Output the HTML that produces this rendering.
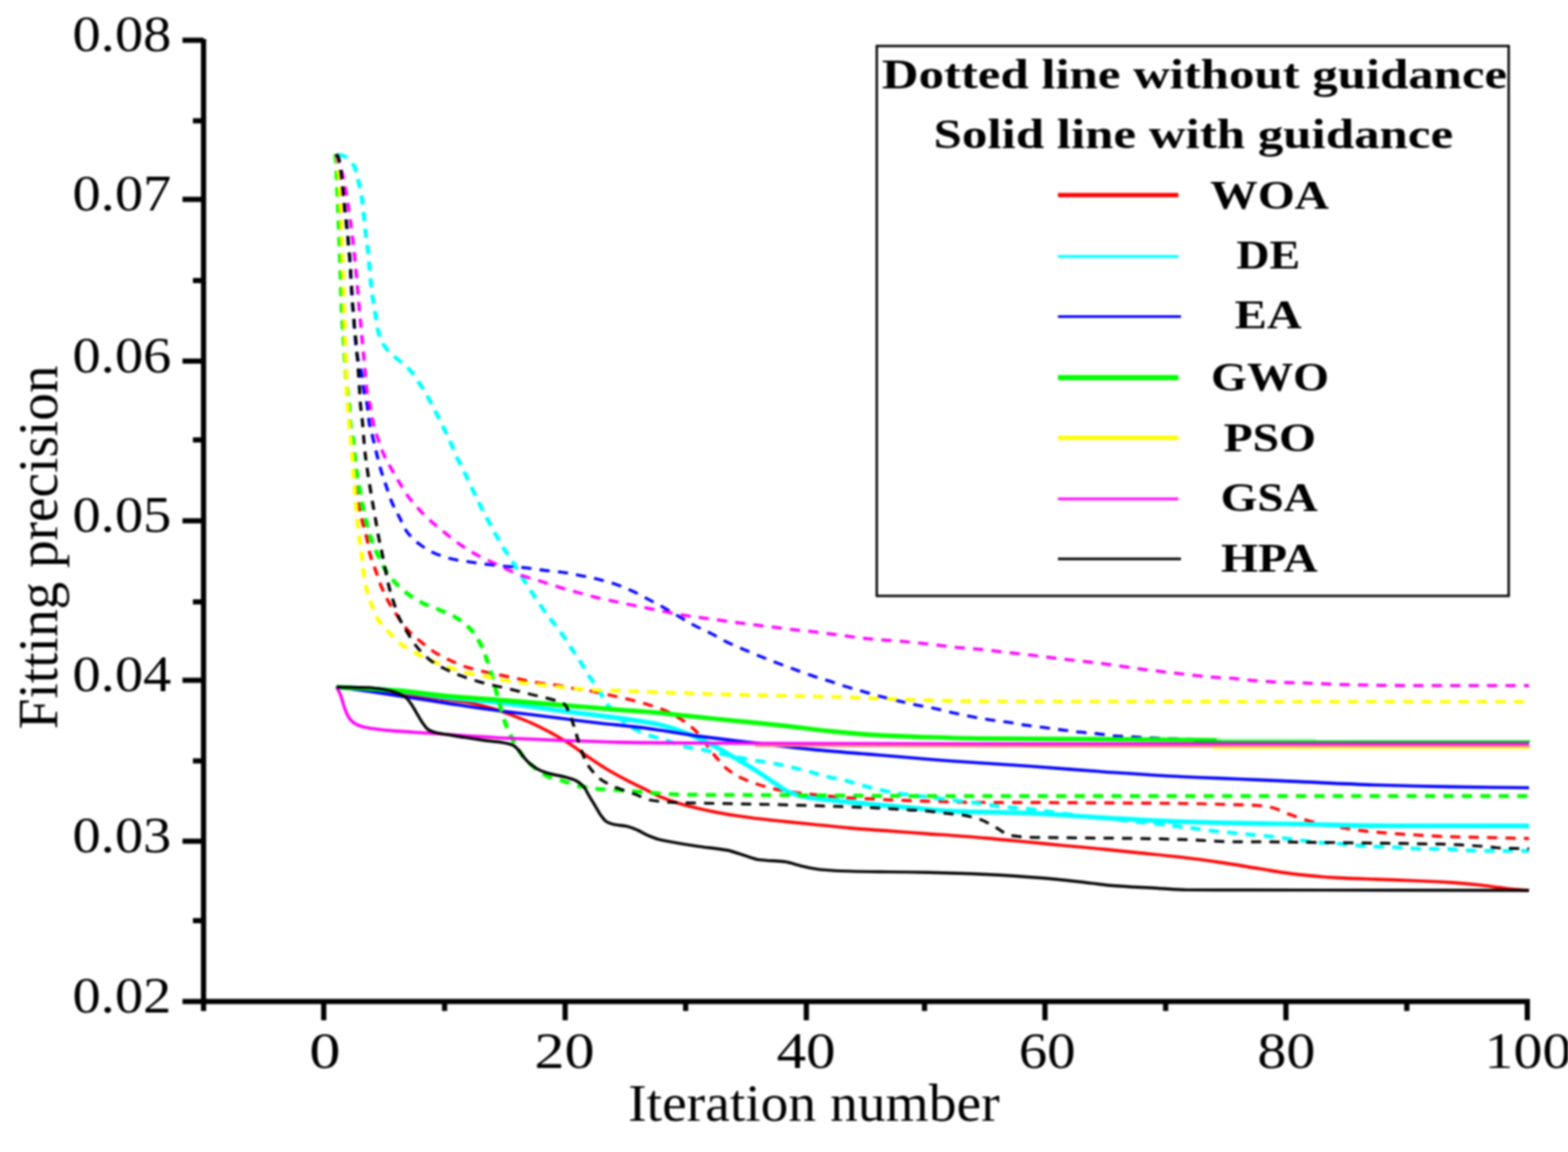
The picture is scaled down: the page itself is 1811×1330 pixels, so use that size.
<!DOCTYPE html>
<html lang="en"><head><meta charset="utf-8"><title>Fitting precision vs iteration number</title>
<style>
html,body{margin:0;padding:0;background:#fff;}
body{width:1811px;height:1330px;overflow:hidden;}
svg{display:block;filter:blur(0.8px);}
text{font-family:"Liberation Serif","DejaVu Serif",serif;fill:#000;}
.tk{font-size:60px;}
.ax{font-size:61px;}
.ay{font-size:66px;}
.lg{font-size:48px;font-weight:bold;}
.lb{font-size:47px;font-weight:bold;}

.c{fill:none;stroke-linejoin:round;stroke-linecap:butt;}
</style></head><body>
<svg width="1811" height="1330" viewBox="0 0 1811 1330">
<rect x="0" y="0" width="1811" height="1330" fill="#fff"/>
<g id="curves">
<path class="c" transform="scale(1 0.90)" d="M387.8 197.8C388.1 199.3 388.5 200.1 388.8 202.2C390.0 209.9 391.2 239.3 392.4 266.2C393.1 282.7 393.9 306.5 394.6 330.0C395.2 349.2 395.8 376.1 396.4 393.9C397.2 418.6 398.1 432.5 398.9 456.4C399.3 468.9 399.8 491.3 400.2 498.9C400.8 509.4 401.4 512.1 402.0 519.6C402.5 526.2 403.1 534.6 403.6 541.0C404.3 549.0 404.9 555.6 405.6 562.6C406.3 570.2 407.1 576.7 407.8 584.7C408.4 591.1 409.0 599.2 409.6 605.6C410.3 613.4 411.1 620.1 411.8 627.1C412.6 634.4 413.3 643.5 414.1 648.4C415.6 658.1 417.1 662.7 418.6 669.3C420.3 676.7 421.9 682.3 423.6 690.2C424.9 696.3 426.1 705.9 427.4 711.1C429.5 719.6 431.5 724.2 433.6 730.8C435.7 737.6 437.9 745.2 440.0 751.1C442.8 758.8 445.6 765.4 448.4 771.2C451.5 777.6 454.6 782.8 457.7 788.0C461.8 794.8 465.9 801.9 470.0 807.0C475.2 813.4 480.3 817.9 485.5 822.7C490.8 827.6 496.1 832.5 501.4 836.2C507.5 840.5 513.5 843.9 519.6 847.0C526.2 850.4 532.8 853.6 539.4 855.9C546.3 858.3 553.1 860.0 560.0 861.8C567.0 863.6 574.0 865.0 581.0 866.7C588.0 868.3 595.0 870.0 602.0 871.6C609.0 873.1 616.0 874.8 623.0 876.0C629.6 877.1 636.3 877.7 642.9 878.9C649.9 880.1 656.9 882.0 663.9 883.3C670.9 884.7 677.9 885.6 684.9 887.0C691.9 888.4 698.9 890.3 705.9 892.0C712.9 893.7 719.9 895.4 726.9 897.3C733.5 899.1 740.0 901.1 746.6 903.2C752.9 905.3 759.1 907.2 765.4 910.0C772.0 913.0 778.7 917.1 785.3 921.8C790.8 925.6 796.4 930.0 801.9 935.8C810.0 944.2 818.1 959.6 826.2 970.1C830.6 975.8 835.0 982.2 839.4 986.1C845.3 991.4 851.2 995.3 857.1 998.4C863.4 1001.8 869.6 1004.2 875.9 1006.4C882.3 1008.7 888.8 1010.7 895.2 1012.2C902.4 1013.9 909.6 1015.1 916.8 1016.2C924.2 1017.4 931.5 1018.2 938.9 1019.1C946.3 1020.0 953.6 1020.8 961.0 1021.6C968.4 1022.3 975.7 1023.2 983.1 1023.7C990.5 1024.1 997.8 1024.3 1005.2 1024.7C1012.6 1025.1 1019.9 1025.7 1027.3 1026.1C1042.0 1026.8 1056.8 1027.3 1071.5 1027.8C1089.9 1028.4 1108.3 1029.1 1126.7 1029.2C1147.3 1029.4 1167.8 1029.4 1188.4 1029.4C1217.9 1029.6 1247.3 1029.8 1276.8 1030.0C1306.3 1030.2 1335.7 1030.3 1365.2 1030.7C1385.8 1030.9 1406.4 1031.7 1427.0 1032.3C1434.3 1032.5 1441.7 1032.6 1449.0 1033.0C1455.8 1033.3 1462.5 1034.5 1469.3 1036.0C1475.7 1037.4 1482.2 1041.7 1488.6 1044.3C1495.1 1047.0 1501.7 1049.7 1508.2 1051.8C1514.8 1053.9 1521.5 1055.9 1528.1 1057.4C1535.1 1059.1 1542.1 1060.4 1549.1 1061.7C1556.1 1063.0 1563.1 1064.4 1570.1 1065.3C1577.5 1066.3 1584.8 1067.1 1592.2 1067.8C1606.2 1069.1 1620.2 1070.1 1634.2 1071.0C1648.2 1071.9 1662.2 1073.0 1676.2 1073.4C1690.9 1073.9 1705.7 1074.1 1720.4 1074.4C1735.6 1074.8 1750.8 1075.3 1766.0 1075.7" stroke="#ff0000" stroke-width="3.8" stroke-dasharray="11.8 9.5"/>
<path class="c" d="M388.7 793.3C401.2 794.5 413.8 795.6 426.3 797.0C441.0 798.6 455.8 800.8 470.5 802.5C477.9 803.4 485.2 804.1 492.6 805.0C507.3 806.7 522.1 808.1 536.8 810.5C547.9 812.3 558.9 815.1 570.0 818.2C577.3 820.3 584.7 823.2 592.0 826.0C599.4 828.8 606.7 831.5 614.1 834.8C621.5 838.1 628.8 841.9 636.2 845.9C643.6 849.9 650.9 854.3 658.3 859.1C665.7 863.9 673.0 869.6 680.4 874.6C687.8 879.6 695.1 884.6 702.5 889.0C709.9 893.4 717.2 897.3 724.6 901.1C730.4 904.1 736.2 906.8 742.0 909.7C748.7 913.0 755.3 916.9 762.0 919.7C769.4 922.8 776.8 925.4 784.2 927.6C795.2 930.9 806.3 933.5 817.3 935.8C828.4 938.1 839.4 940.2 850.5 941.8C865.2 944.0 880.0 945.7 894.7 947.3C909.4 948.9 924.2 950.2 938.9 951.7C953.6 953.2 968.4 954.8 983.1 956.1C997.8 957.4 1012.6 958.3 1027.3 959.4C1042.0 960.5 1056.8 961.5 1071.5 962.6C1093.8 964.2 1116.1 965.7 1138.4 967.6C1155.1 969.0 1171.7 970.7 1188.4 972.3C1201.2 973.5 1214.0 974.8 1226.8 976.0C1243.5 977.6 1260.1 979.0 1276.8 980.6C1289.6 981.9 1302.4 983.3 1315.2 984.6C1331.9 986.3 1348.5 987.8 1365.2 989.8C1380.5 991.6 1395.7 993.7 1411.0 995.9C1425.7 998.0 1440.5 1000.7 1455.2 1003.0C1469.9 1005.3 1484.7 1008.0 1499.4 1009.6C1514.1 1011.2 1528.9 1012.6 1543.6 1013.4C1558.3 1014.2 1573.1 1014.6 1587.8 1015.1C1602.5 1015.6 1617.3 1016.1 1632.0 1016.7C1646.7 1017.3 1661.5 1018.0 1676.2 1018.9C1687.2 1019.6 1698.3 1020.6 1709.3 1021.8C1716.7 1022.6 1724.0 1023.7 1731.4 1024.6C1737.3 1025.4 1743.2 1026.4 1749.1 1026.9C1754.7 1027.4 1760.4 1027.6 1766.0 1028.0" stroke="#ff0000" stroke-width="3.6"/>
<path class="c" transform="scale(1 0.90)" d="M390.0 198.3C391.8 198.7 393.6 198.9 395.4 199.4C399.8 200.8 404.2 204.8 408.6 212.1C410.4 215.2 412.3 224.7 414.1 233.0C415.4 238.8 416.6 244.9 417.9 253.9C418.6 259.1 419.4 267.1 420.1 274.8C420.7 281.1 421.3 289.9 421.9 295.7C422.8 304.0 423.6 308.3 424.5 316.6C425.1 322.3 425.7 330.2 426.3 337.3C426.9 344.5 427.5 353.0 428.1 359.4C428.8 367.3 429.6 374.5 430.3 380.3C431.3 388.6 432.4 393.9 433.4 401.2C434.3 407.8 435.3 418.0 436.2 422.1C438.6 432.9 441.1 438.8 443.5 443.0C448.1 450.9 452.6 454.1 457.2 458.9C462.4 464.3 467.5 467.5 472.7 473.7C476.4 478.1 480.1 484.4 483.8 490.6C487.3 496.4 490.9 502.8 494.4 509.8C497.5 515.8 500.5 522.8 503.6 529.4C506.6 535.9 509.5 542.3 512.5 549.0C515.3 555.3 518.1 561.7 520.9 568.7C523.4 574.9 525.9 582.3 528.4 588.3C531.2 595.0 534.0 600.4 536.8 606.8C539.6 613.1 542.4 619.9 545.2 626.4C548.0 633.0 550.8 639.8 553.6 646.0C556.7 652.9 559.8 659.1 562.9 665.7C565.8 671.8 568.8 678.3 571.7 684.1C575.2 691.0 578.6 697.5 582.1 703.8C585.4 709.7 588.7 715.1 592.0 720.9C595.7 727.4 599.4 734.1 603.1 740.6C606.6 746.8 610.2 753.0 613.7 759.0C617.4 765.3 621.1 771.6 624.8 777.4C628.6 783.5 632.4 789.2 636.2 794.8C640.2 800.7 644.2 805.7 648.2 811.9C651.9 817.6 655.7 824.3 659.4 830.6C663.1 836.7 666.8 842.5 670.5 849.0C673.8 854.8 677.1 861.9 680.4 867.4C683.4 872.4 686.3 875.9 689.3 880.9C693.0 887.0 696.6 896.1 700.3 901.8C705.5 909.7 710.6 916.3 715.8 921.4C721.3 926.9 726.9 931.5 732.4 934.9C737.9 938.3 743.3 941.0 748.8 943.1C755.1 945.5 761.3 946.6 767.6 948.8C774.6 951.2 781.6 955.6 788.6 957.4C796.0 959.3 803.3 960.0 810.7 961.6C817.3 963.0 824.0 964.9 830.6 966.4C838.0 968.2 845.3 969.9 852.7 971.4C859.3 972.9 866.0 974.3 872.6 975.6C879.6 976.9 886.6 977.8 893.6 979.2C900.6 980.6 907.6 982.5 914.6 984.3C921.2 986.0 927.9 987.9 934.5 989.8C941.5 991.8 948.5 994.4 955.5 996.2C962.1 998.0 968.8 999.1 975.4 1000.9C982.0 1002.7 988.6 1005.2 995.2 1007.2C1002.2 1009.3 1009.2 1011.4 1016.2 1013.1C1022.8 1014.7 1029.5 1016.3 1036.1 1017.4C1043.5 1018.7 1050.8 1019.4 1058.2 1020.4C1065.6 1021.5 1072.9 1022.6 1080.3 1023.7C1087.7 1024.7 1095.0 1025.6 1102.4 1026.7C1108.9 1027.6 1115.5 1028.5 1122.0 1029.4C1128.7 1030.4 1135.3 1031.5 1142.0 1032.4C1148.6 1033.4 1155.3 1034.3 1161.9 1035.1C1169.3 1036.0 1176.6 1036.5 1184.0 1037.3C1206.0 1039.8 1228.0 1043.8 1250.0 1046.7C1284.0 1051.1 1318.0 1054.4 1352.0 1058.9C1359.0 1059.8 1366.0 1060.9 1373.0 1061.9C1380.0 1062.9 1387.0 1064.2 1394.0 1065.1C1401.3 1066.1 1408.7 1066.8 1416.0 1067.6C1423.2 1068.3 1430.3 1069.1 1437.5 1069.9C1444.5 1070.6 1451.5 1071.2 1458.5 1072.0C1465.5 1072.8 1472.5 1073.7 1479.5 1074.7C1486.1 1075.6 1492.8 1076.6 1499.4 1077.6C1506.8 1078.6 1514.1 1079.9 1521.5 1080.6C1528.9 1081.2 1536.2 1081.4 1543.6 1082.0C1550.2 1082.5 1556.9 1083.7 1563.5 1084.2C1570.5 1084.8 1577.5 1085.3 1584.5 1085.7C1591.5 1086.1 1598.5 1086.3 1605.5 1086.7C1612.9 1087.1 1620.2 1087.7 1627.6 1088.1C1634.6 1088.5 1641.6 1089.1 1648.6 1089.1C1655.6 1089.1 1662.6 1089.1 1669.6 1089.1C1676.6 1089.1 1683.6 1090.2 1690.6 1090.6C1697.6 1090.9 1704.6 1091.6 1711.6 1091.6C1718.6 1091.6 1725.5 1091.6 1732.5 1091.6C1743.7 1091.6 1754.8 1091.6 1766.0 1091.6" stroke="#00ffff" stroke-width="4.8" stroke-dasharray="11.8 9.5"/>
<path class="c" d="M388.7 793.3C412.3 794.8 435.8 795.7 459.4 797.7C477.8 799.3 496.3 802.9 514.7 805.0C536.8 807.5 558.9 809.1 581.0 811.6C603.1 814.1 625.2 817.5 647.3 820.4C662.0 822.3 676.8 824.1 691.5 826.0C706.2 827.9 721.0 829.7 735.7 832.0C744.5 833.4 753.2 834.7 762.0 836.7C769.4 838.4 776.8 840.8 784.2 843.3C791.6 845.8 798.9 848.9 806.3 852.2C813.7 855.5 821.0 859.3 828.4 863.2C835.8 867.1 843.1 871.7 850.5 876.0C857.9 880.3 865.2 884.5 872.6 889.2C880.0 893.9 887.3 899.3 894.7 904.1C900.6 907.9 906.5 912.8 912.4 915.1C918.6 917.5 924.8 919.1 931.0 920.2C941.0 922.0 951.0 922.9 961.0 924.0C975.7 925.7 990.5 927.0 1005.2 928.4C1019.9 929.8 1034.7 931.0 1049.4 932.3C1066.3 933.7 1083.1 935.8 1100.0 936.5C1129.5 937.7 1158.9 937.7 1188.4 938.7C1217.9 939.7 1247.3 942.6 1276.8 944.2C1306.3 945.8 1335.7 947.6 1365.2 948.6C1394.7 949.6 1424.1 950.3 1453.6 950.8C1469.1 951.1 1484.5 951.2 1500.0 951.4C1529.3 951.9 1558.5 953.2 1587.8 953.3C1647.2 953.4 1706.6 953.4 1766.0 953.5" stroke="#00ffff" stroke-width="5.4"/>
<path class="c" transform="scale(1 0.90)" d="M388.2 197.8C389.5 205.9 390.7 213.6 392.0 222.2C394.0 235.9 396.0 248.6 398.0 266.2C399.9 283.3 401.9 303.6 403.8 330.0C405.0 346.8 406.3 376.0 407.5 393.9C409.2 418.5 410.9 445.3 412.6 456.4C414.2 467.2 415.9 468.2 417.5 478.6C418.2 483.2 419.0 493.9 419.7 498.7C421.2 508.2 422.6 509.8 424.1 519.6C424.8 524.4 425.6 536.1 426.3 541.0C427.8 550.7 429.2 554.9 430.7 561.8C432.2 568.6 433.6 575.7 435.1 582.2C436.7 589.5 438.4 597.0 440.0 603.1C442.1 610.9 444.1 617.2 446.2 623.9C448.4 631.1 450.6 639.0 452.8 644.8C455.6 652.1 458.4 657.2 461.2 663.2C464.3 669.9 467.4 678.4 470.5 682.9C475.3 689.9 480.1 694.4 484.9 698.3C490.8 703.2 496.6 707.1 502.5 709.9C509.1 713.0 515.8 715.6 522.4 717.2C529.3 718.9 536.1 719.7 543.0 720.9C549.8 722.0 556.5 723.2 563.3 724.1C570.3 725.1 577.3 725.9 584.3 726.6C591.7 727.3 599.0 727.6 606.4 728.3C613.4 729.1 620.4 730.5 627.4 731.4C634.5 732.4 641.7 732.9 648.8 734.0C655.7 735.0 662.5 736.6 669.4 738.1C676.4 739.6 683.4 741.1 690.4 743.0C697.0 744.8 703.7 746.8 710.3 749.2C716.7 751.6 723.1 754.6 729.5 757.8C735.6 760.8 741.7 764.7 747.8 768.2C754.0 771.9 760.3 775.5 766.5 779.3C772.4 783.0 778.3 787.1 784.2 790.9C790.3 794.8 796.4 799.1 802.5 802.7C808.8 806.3 815.0 809.0 821.3 812.6C827.3 816.0 833.4 820.3 839.4 823.6C845.7 826.9 851.9 829.7 858.2 832.7C864.8 835.8 871.5 839.0 878.1 842.0C884.5 844.9 890.9 847.6 897.3 850.3C903.8 853.1 910.3 855.8 916.8 858.4C923.4 861.1 930.1 863.9 936.7 866.3C943.3 868.8 950.0 870.9 956.6 873.2C963.2 875.6 969.9 878.3 976.5 880.6C983.1 882.8 989.8 884.8 996.4 886.9C1003.0 889.0 1009.6 891.4 1016.2 893.3C1023.2 895.4 1030.2 897.2 1037.2 899.0C1044.2 900.8 1051.2 902.7 1058.2 904.3C1065.2 905.9 1072.2 907.1 1079.2 908.8C1086.2 910.4 1093.2 912.5 1100.2 914.2C1107.1 915.9 1114.1 917.5 1121.0 919.0C1128.0 920.5 1135.0 921.9 1142.0 923.1C1149.0 924.3 1156.0 925.2 1163.0 926.3C1169.6 927.4 1176.3 928.9 1182.9 930.0C1189.9 931.1 1196.9 932.0 1203.9 933.0C1210.9 934.0 1217.9 935.1 1224.9 936.1C1231.9 937.1 1238.9 938.3 1245.9 939.1C1252.9 939.9 1259.9 940.3 1266.9 941.1C1273.9 941.9 1280.8 943.4 1287.8 944.0C1294.8 944.6 1301.8 944.8 1308.8 945.2C1315.8 945.7 1322.8 946.3 1329.8 946.7C1337.2 947.1 1344.5 947.4 1351.9 947.7C1364.6 948.1 1377.3 948.3 1390.0 948.7" stroke="#0000ff" stroke-width="3.7" stroke-dasharray="11.8 9.5"/>
<path class="c" d="M388.7 793.3C401.2 795.0 413.8 796.5 426.3 798.3C441.0 800.4 455.8 802.8 470.5 805.0C485.2 807.2 500.0 809.4 514.7 811.6C529.4 813.8 544.2 816.2 558.9 818.2C573.6 820.2 588.4 822.0 603.1 823.8C617.8 825.6 632.6 827.5 647.3 829.3C662.0 831.1 676.8 833.1 691.5 834.8C706.2 836.5 721.0 837.6 735.7 839.4C743.8 840.4 751.9 841.6 760.0 842.8C775.4 845.0 790.9 847.8 806.3 849.9C828.4 852.9 850.5 855.1 872.6 857.7C894.7 860.3 916.8 863.3 938.9 865.4C961.0 867.5 983.1 869.1 1005.2 870.9C1027.3 872.7 1049.4 874.8 1071.5 876.5C1087.7 877.8 1103.8 878.9 1120.0 880.0C1142.8 881.6 1165.6 882.9 1188.4 884.5C1217.9 886.6 1247.3 889.2 1276.8 891.2C1306.3 893.2 1335.7 895.3 1365.2 896.7C1380.5 897.4 1395.7 898.0 1411.0 898.6C1425.2 899.2 1439.4 899.8 1453.6 900.4C1468.9 901.1 1484.1 901.7 1499.4 902.4C1528.9 903.7 1558.3 905.3 1587.8 906.2C1617.3 907.1 1646.7 907.9 1676.2 908.4C1706.1 908.9 1736.1 909.1 1766.0 909.5" stroke="#0000ff" stroke-width="3.6"/>
<path class="c" transform="scale(1 0.90)" d="M387.2 197.8C387.4 199.3 387.6 200.2 387.8 202.2C388.7 211.6 389.7 242.3 390.6 266.2C391.3 285.1 392.1 307.7 392.8 330.0C393.5 350.3 394.1 378.0 394.8 393.9C395.9 421.0 397.1 436.5 398.2 456.4C399.0 471.1 399.9 489.4 400.7 498.9C401.5 508.0 402.3 509.5 403.1 519.6C403.5 524.2 403.8 537.1 404.2 541.0C405.3 552.7 406.4 553.7 407.5 562.6C408.2 568.4 409.0 577.5 409.7 584.7C410.4 591.8 411.2 599.8 411.9 605.6C413.0 614.2 414.1 620.1 415.2 627.1C416.3 634.4 417.5 642.3 418.6 648.4C420.1 656.4 421.5 662.9 423.0 669.3C424.7 676.7 426.4 684.2 428.1 689.8C430.6 697.9 433.1 703.8 435.6 709.9C438.5 717.1 441.5 724.2 444.4 729.6C448.1 736.3 451.8 741.7 455.5 746.2C460.5 752.3 465.5 757.3 470.5 761.4C476.5 766.4 482.6 770.5 488.6 773.8C494.8 777.2 501.1 779.2 507.3 782.2C513.7 785.3 520.1 787.8 526.5 792.0C531.9 795.5 537.2 800.0 542.6 806.1C546.4 810.4 550.2 816.3 554.0 823.9C556.5 828.9 559.0 836.0 561.5 843.6C563.4 849.4 565.4 856.5 567.3 863.7C569.1 870.2 570.8 877.5 572.6 884.6C574.3 891.4 576.0 898.7 577.7 905.4C579.5 912.7 581.4 920.7 583.2 926.3C585.3 932.7 587.3 937.5 589.4 942.3C592.5 949.6 595.6 956.5 598.7 961.9C600.9 965.7 603.1 969.0 605.3 971.8C608.2 975.5 611.2 978.8 614.1 981.6C619.6 986.8 625.2 992.4 630.7 995.1C637.3 998.4 644.0 999.7 650.6 1002.0C656.9 1004.2 663.1 1007.1 669.4 1008.6C676.8 1010.2 684.1 1011.5 691.5 1012.2C698.5 1012.9 705.5 1013.0 712.5 1013.6C719.5 1014.1 726.5 1014.8 733.5 1015.4C740.1 1016.0 746.8 1016.7 753.4 1017.2C765.6 1018.1 777.8 1019.3 790.0 1019.4C826.7 1019.8 863.3 1019.8 900.0 1020.0C966.7 1020.4 1033.3 1021.1 1100.0 1021.1C1200.0 1021.1 1300.0 1021.1 1400.0 1021.1C1522.0 1021.1 1644.0 1021.1 1766.0 1021.1" stroke="#00ff00" stroke-width="5.0" stroke-dasharray="11.8 9.5"/>
<path class="c" d="M388.7 793.3C412.3 794.6 435.8 795.4 459.4 797.2C477.8 798.6 496.3 801.7 514.7 803.4C536.8 805.4 558.9 806.6 581.0 808.3C603.1 810.0 625.2 812.0 647.3 813.8C669.4 815.6 691.5 817.5 713.6 819.3C729.1 820.5 744.5 821.5 760.0 822.9C771.7 824.0 783.5 825.5 795.2 826.7C813.6 828.6 832.1 830.4 850.5 832.3C868.9 834.1 887.3 835.8 905.7 837.8C924.1 839.8 942.6 842.6 961.0 844.4C979.4 846.2 997.8 847.8 1016.2 848.8C1034.6 849.8 1053.1 850.4 1071.5 851.0C1093.6 851.7 1115.7 852.4 1137.8 852.6C1191.9 853.2 1245.9 853.2 1300.0 853.6C1336.7 853.9 1373.3 854.3 1410.0 854.6" stroke="#00ff00" stroke-width="5.2"/>
<path class="c" transform="scale(1 0.90)" d="M388.2 197.8C388.7 199.3 389.1 200.0 389.6 202.2C390.9 208.3 392.1 238.6 393.4 266.2C394.1 282.2 394.9 305.9 395.6 330.0C396.2 348.7 396.7 374.5 397.3 393.9C398.0 416.7 398.6 430.7 399.3 456.4C399.6 468.0 399.9 491.5 400.2 498.9C400.6 509.5 401.1 513.2 401.5 519.6C402.0 527.3 402.6 534.2 403.1 541.0C403.7 548.6 404.3 555.7 404.9 562.6C405.6 570.2 406.2 575.8 406.9 584.7C407.3 590.4 407.8 599.0 408.2 605.6C408.7 613.2 409.2 620.2 409.7 627.1C410.2 634.5 410.8 641.4 411.3 648.4C411.9 655.9 412.4 664.3 413.0 670.6C413.7 678.7 414.5 685.2 415.2 691.4C416.1 699.1 417.0 703.9 417.9 712.3C418.5 718.0 419.1 728.2 419.7 733.2C420.8 742.5 421.9 749.0 423.0 754.1C425.0 763.4 427.0 768.9 429.0 775.0C431.4 782.3 433.8 789.9 436.2 794.2C440.5 801.9 444.7 805.7 449.0 810.8C454.0 816.6 458.9 822.8 463.9 826.9C469.4 831.4 474.9 834.6 480.4 837.9C486.7 841.6 492.9 844.8 499.2 847.8C505.8 850.9 512.5 853.9 519.1 856.3C526.1 858.9 533.1 861.5 540.1 863.2C547.1 865.0 554.1 865.9 561.1 867.4C567.7 868.9 574.4 871.1 581.0 872.3C588.0 873.7 595.0 874.6 602.0 875.6C609.0 876.5 616.0 877.1 623.0 878.0C630.0 878.9 637.0 880.0 644.0 880.9C651.0 881.8 658.0 882.6 665.0 883.3C672.0 884.1 679.0 885.1 686.0 885.3C693.3 885.6 700.7 885.6 708.0 885.8C715.0 886.0 722.0 886.3 729.0 886.6C736.2 886.9 743.3 887.3 750.5 887.6C783.8 888.9 817.2 890.1 850.5 891.1C887.3 892.2 924.2 892.8 961.0 893.9C997.8 895.0 1034.7 897.2 1071.5 898.2C1093.6 898.8 1115.7 899.6 1137.8 899.7C1191.9 899.7 1245.9 899.7 1300.0 899.8C1366.7 899.8 1433.3 900.0 1500.0 900.0C1588.7 900.0 1677.3 900.0 1766.0 900.0" stroke="#ffff00" stroke-width="4.6" stroke-dasharray="11.8 9.5"/>
<path class="c" d="M388.7 793.3C390.2 796.1 391.6 798.1 393.1 801.7C394.2 804.5 395.4 809.3 396.5 812.7C398.0 817.1 399.4 822.1 400.9 824.9C402.7 828.4 404.6 831.0 406.4 832.6C409.0 834.9 411.5 836.6 414.1 837.5C418.9 839.3 423.7 840.3 428.5 841.0C436.6 842.2 444.7 842.9 452.8 843.6C466.1 844.7 479.3 845.4 492.6 846.3C507.3 847.3 522.1 848.3 536.8 849.2C551.5 850.1 566.3 851.3 581.0 852.0C603.1 853.1 625.2 853.9 647.3 854.7C669.4 855.5 691.5 856.5 713.6 856.9C729.1 857.2 744.5 857.4 760.0 857.6C790.0 857.9 820.0 857.9 850.0 858.3C866.7 858.5 883.3 859.4 900.0 859.6C979.3 860.4 1058.5 860.5 1137.8 860.8C1191.9 861.0 1245.9 861.1 1300.0 861.2C1333.3 861.3 1366.7 861.4 1400.0 861.4C1522.0 861.5 1644.0 861.5 1766.0 861.5" stroke="#ffff00" stroke-width="3.0"/>
<path class="c" transform="scale(1 0.90)" d="M388.5 197.8C390.9 206.7 393.4 213.0 395.8 224.4C399.7 242.8 403.6 272.7 407.5 307.8C410.5 334.5 413.4 378.2 416.4 413.3C418.2 435.1 420.1 455.9 421.9 478.6C422.4 485.1 423.0 494.7 423.5 498.9C424.8 509.2 426.1 511.9 427.4 519.6C428.5 526.0 429.6 535.6 430.7 541.0C432.5 550.0 434.4 555.6 436.2 561.8C438.4 569.3 440.7 576.6 442.9 582.2C445.8 589.6 448.8 594.8 451.7 600.7C455.0 607.3 458.4 613.7 461.7 619.8C465.2 626.2 468.8 632.9 472.3 638.2C476.7 644.8 481.1 650.2 485.5 655.3C490.2 660.9 495.0 665.9 499.7 670.6C504.9 675.7 510.2 680.3 515.4 684.9C520.9 689.7 526.4 694.7 531.9 698.9C537.6 703.2 543.3 707.2 549.0 710.7C555.2 714.5 561.5 717.5 567.7 720.9C574.0 724.2 580.2 727.8 586.5 730.8C592.9 733.9 599.3 736.9 605.7 739.3C612.6 742.0 619.4 743.8 626.3 746.2C633.1 748.6 639.8 751.3 646.6 753.6C653.3 755.8 660.0 757.7 666.7 759.8C673.3 761.8 680.0 764.1 686.6 765.9C693.4 767.7 700.2 769.2 707.0 770.8C714.0 772.4 721.0 774.1 728.0 775.7C734.8 777.2 741.6 778.7 748.4 780.2C762.2 783.3 775.9 786.8 789.7 789.2C804.1 791.8 818.4 793.6 832.8 795.8C846.8 797.9 860.8 800.0 874.8 802.0C888.8 804.0 902.8 805.8 916.8 807.7C930.8 809.5 944.8 811.1 958.8 813.0C972.8 814.9 986.8 817.6 1000.8 819.1C1014.8 820.7 1028.8 821.5 1042.8 822.9C1056.8 824.3 1070.8 826.0 1084.8 827.8C1091.7 828.6 1098.6 829.8 1105.5 830.6C1112.6 831.3 1119.6 831.7 1126.7 832.4C1134.0 833.2 1141.3 834.1 1148.6 835.0C1162.6 836.7 1176.6 838.6 1190.6 840.4C1204.6 842.3 1218.6 844.2 1232.6 846.0C1246.6 847.8 1260.6 849.4 1274.6 851.4C1288.6 853.4 1302.6 856.1 1316.6 858.1C1330.6 860.1 1344.6 861.9 1358.6 863.7C1372.6 865.4 1386.6 867.5 1400.6 868.7C1407.7 869.3 1414.9 869.5 1422.0 870.1C1428.8 870.7 1435.7 871.8 1442.5 872.4C1449.7 873.2 1456.8 873.8 1464.0 874.3C1471.2 874.8 1478.4 875.3 1485.6 875.6C1492.4 875.8 1499.2 876.0 1506.0 876.2C1527.3 877.0 1548.7 878.3 1570.0 878.7C1590.7 879.1 1611.3 879.4 1632.0 879.4C1676.7 879.4 1721.3 879.4 1766.0 879.4" stroke="#ff00ff" stroke-width="3.9" stroke-dasharray="11.8 9.5"/>
<path class="c" d="M388.7 793.3C390.2 796.1 391.6 798.1 393.1 801.7C394.2 804.5 395.4 809.3 396.5 812.7C398.0 817.1 399.4 822.1 400.9 824.9C402.7 828.4 404.6 831.0 406.4 832.6C409.0 834.9 411.5 836.6 414.1 837.5C418.9 839.3 423.7 840.3 428.5 841.0C436.6 842.2 444.7 842.9 452.8 843.6C466.1 844.7 479.3 845.4 492.6 846.3C507.3 847.3 522.1 848.3 536.8 849.2C551.5 850.1 566.3 851.3 581.0 852.0C603.1 853.1 625.2 853.9 647.3 854.7C669.4 855.5 691.5 856.5 713.6 856.9C729.1 857.2 744.5 857.5 760.0 857.6C806.7 857.9 853.3 858.0 900.0 858.2C979.3 858.5 1058.5 858.8 1137.8 858.8C1258.5 858.9 1379.3 858.9 1500.0 858.9C1588.7 858.9 1677.3 858.9 1766.0 858.9" stroke="#ff00ff" stroke-width="3.6"/>
<path class="c" transform="scale(1 0.90)" d="M388.0 197.8C389.0 199.3 390.0 199.9 391.0 202.2C393.3 207.6 395.7 242.9 398.0 266.2C399.9 285.6 401.9 303.6 403.8 330.0C405.0 346.8 406.3 376.0 407.5 393.9C409.2 418.5 410.9 432.3 412.6 456.4C413.5 468.8 414.3 484.3 415.2 498.9C415.6 505.6 416.0 514.4 416.4 519.6C417.1 528.9 417.9 532.5 418.6 541.0C419.1 546.8 419.6 555.3 420.1 561.8C420.7 569.5 421.3 577.6 421.9 583.4C422.8 591.9 423.6 597.8 424.5 604.3C425.5 612.2 426.6 619.3 427.6 626.4C428.6 633.6 429.7 640.5 430.7 647.2C431.8 654.4 432.9 661.1 434.0 668.1C435.1 675.1 436.2 682.7 437.3 689.0C438.6 696.7 440.0 702.7 441.3 709.9C442.6 716.7 443.8 724.0 445.1 730.8C446.4 737.9 447.8 745.8 449.1 751.7C450.9 759.8 452.8 766.1 454.6 772.4C456.7 779.7 458.8 787.1 460.9 792.3C464.0 799.9 467.0 805.0 470.1 810.7C473.8 817.4 477.4 824.3 481.1 829.3C486.0 836.1 491.0 841.8 495.9 846.0C501.6 850.9 507.4 854.3 513.1 857.6C519.4 861.1 525.6 864.0 531.9 866.7C538.5 869.4 545.2 871.9 551.8 874.0C558.6 876.2 565.4 877.8 572.2 879.7C579.2 881.5 586.1 883.2 593.1 885.1C599.9 886.9 606.7 888.9 613.5 890.8C620.3 892.7 627.2 894.2 634.0 896.3C639.9 898.2 645.8 898.8 651.7 903.0C654.7 905.1 657.6 915.3 660.6 923.9C662.4 929.2 664.3 937.0 666.1 943.6C668.1 950.6 670.0 958.9 672.0 964.4C674.8 972.3 677.6 979.0 680.4 983.6C685.0 990.9 689.5 996.4 694.1 1000.0C700.2 1004.8 706.4 1007.7 712.5 1010.6C719.1 1013.7 725.8 1015.7 732.4 1018.4C738.8 1021.0 745.1 1025.2 751.5 1026.4C758.7 1027.8 765.8 1028.7 773.0 1029.1C787.0 1029.8 801.0 1030.0 815.0 1030.3C836.3 1030.9 857.7 1031.1 879.0 1031.7C900.3 1032.2 921.7 1032.8 943.0 1033.6C963.7 1034.3 984.3 1035.1 1005.0 1036.1C1019.8 1036.9 1034.6 1038.0 1049.4 1038.9C1055.5 1039.3 1061.6 1039.5 1067.7 1040.0C1075.1 1040.6 1082.4 1042.1 1089.8 1043.0C1096.8 1043.9 1103.8 1044.3 1110.8 1045.4C1117.4 1046.5 1124.1 1048.3 1130.7 1050.7C1137.0 1052.9 1143.2 1057.1 1149.5 1060.8C1155.0 1064.0 1160.6 1070.3 1166.1 1071.4C1173.1 1072.9 1180.2 1073.6 1187.2 1073.9C1195.0 1074.2 1202.7 1074.3 1210.5 1074.4C1247.3 1075.0 1284.2 1075.0 1321.0 1075.7C1339.4 1076.0 1357.8 1076.6 1376.2 1077.3C1390.1 1077.9 1404.1 1079.5 1418.0 1079.7C1432.1 1079.8 1446.1 1079.8 1460.2 1079.9C1480.6 1080.0 1501.1 1080.3 1521.5 1080.6C1536.2 1080.7 1551.0 1081.0 1565.7 1081.2C1580.4 1081.4 1595.2 1081.6 1609.9 1081.8C1623.5 1082.0 1637.2 1082.3 1650.8 1082.6C1657.8 1082.7 1664.8 1082.8 1671.8 1083.0C1678.8 1083.2 1685.8 1083.8 1692.8 1084.2C1699.8 1084.7 1706.8 1085.1 1713.8 1085.7C1720.8 1086.3 1727.8 1087.6 1734.8 1087.9C1745.2 1088.3 1755.6 1088.4 1766.0 1088.7" stroke="#000000" stroke-width="3.6" stroke-dasharray="11.8 9.5"/>
<path class="c" d="M388.7 793.3C401.2 793.5 413.8 793.5 426.3 793.9C432.2 794.1 438.1 795.1 444.0 796.1C448.4 796.8 452.8 797.9 457.2 799.4C460.9 800.6 464.6 802.3 468.3 805.0C470.5 806.6 472.7 809.7 474.9 812.7C477.1 815.7 479.3 820.1 481.5 823.8C483.7 827.5 486.0 831.8 488.2 834.8C490.4 837.8 492.6 841.2 494.8 842.5C497.7 844.2 500.7 845.2 503.6 845.9C508.8 847.2 513.9 847.6 519.1 848.5C525.0 849.5 530.9 850.5 536.8 851.4C544.2 852.6 551.5 853.7 558.9 854.7C566.3 855.7 573.6 856.0 581.0 857.3C584.7 857.9 588.3 858.7 592.0 860.2C594.2 861.1 596.5 863.4 598.7 865.7C600.9 867.9 603.1 872.1 605.3 874.6C608.2 878.0 611.2 881.2 614.1 883.4C617.8 886.2 621.5 888.5 625.2 890.0C629.6 891.8 634.1 892.9 638.5 894.0C643.6 895.3 648.8 895.9 653.9 897.3C657.6 898.3 661.3 899.3 665.0 901.1C667.9 902.5 670.9 904.6 673.8 907.7C676.0 910.0 678.2 915.1 680.4 918.8C682.6 922.5 684.9 926.1 687.1 929.8C689.3 933.5 691.5 937.9 693.7 940.9C695.9 943.9 698.1 947.3 700.3 948.6C703.3 950.3 706.2 951.3 709.2 951.9C714.3 953.0 719.5 953.0 724.6 954.1C728.3 954.9 732.0 956.6 735.7 958.1C740.1 960.0 744.6 962.9 749.0 964.8C752.7 966.3 756.3 967.8 760.0 968.8C764.4 970.0 768.7 970.8 773.1 971.6C784.2 973.7 795.2 975.5 806.3 977.1C817.3 978.7 828.4 979.4 839.4 981.5C846.8 982.9 854.1 986.0 861.5 988.2C866.7 989.7 871.8 991.9 877.0 992.6C886.6 993.8 896.1 993.7 905.7 994.8C913.1 995.7 920.4 998.8 927.8 1000.3C935.2 1001.8 942.5 1003.5 949.9 1004.1C961.0 1005.0 972.0 1005.6 983.1 1005.9C997.8 1006.3 1012.6 1006.4 1027.3 1006.6C1042.0 1006.8 1056.8 1007.0 1071.5 1007.3C1093.8 1007.8 1116.1 1008.5 1138.4 1009.5C1160.5 1010.5 1182.6 1012.0 1204.7 1013.8C1219.4 1015.0 1234.2 1016.6 1248.9 1018.2C1259.9 1019.4 1271.0 1021.3 1282.0 1022.2C1300.4 1023.7 1318.9 1024.4 1337.3 1025.5C1348.3 1026.1 1359.4 1027.4 1370.4 1027.4C1396.9 1027.5 1423.5 1027.5 1450.0 1027.5C1555.3 1027.6 1660.7 1027.8 1766.0 1028.0" stroke="#000000" stroke-width="3.4"/>
<path class="c" d="M872 861.0L1137 861.3L1767 861.5" stroke="#ff8080" stroke-width="2.7"/>
<path class="c" d="M1380 856.1L1767 856.1" stroke="#00c020" stroke-width="2.7"/>
<path class="c" d="M1405 853.4L1520 853.6" stroke="#a8ffb8" stroke-width="2.4"/>
<path class="c" d="M1400 864.1L1767 864.2" stroke="#ffff66" stroke-width="2.8"/>
</g>
<g id="axes" stroke="#000" stroke-width="6.0" fill="none" stroke-linecap="butt">
<path d="M235.1 45.0 V1167.2"/>
<path d="M210.8 1156.3 H1767.0"/>
<path d="M222.8 1062.9 H235.1"/>
<path d="M210.8 971.2 H235.1"/>
<path d="M222.8 878.5 H235.1"/>
<path d="M210.8 785.4 H235.1"/>
<path d="M222.8 694.9 H235.1"/>
<path d="M210.8 601.3 H235.1"/>
<path d="M222.8 507.9 H235.1"/>
<path d="M210.8 416.9 H235.1"/>
<path d="M222.8 323.9 H235.1"/>
<path d="M210.8 230.2 H235.1"/>
<path d="M222.8 139.5 H235.1"/>
<path d="M210.8 46.5 H235.1"/>
<path d="M373.9 1156.3 V1177.9"/>
<path d="M513.5 1156.3 V1167.2"/>
<path d="M652.7 1156.3 V1177.9"/>
<path d="M791.9 1156.3 V1167.2"/>
<path d="M931.3 1156.3 V1177.9"/>
<path d="M1067.8 1156.3 V1167.2"/>
<path d="M1206.9 1156.3 V1177.9"/>
<path d="M1346.3 1156.3 V1167.2"/>
<path d="M1485.2 1156.3 V1177.9"/>
<path d="M1624.8 1156.3 V1167.2"/>
<path d="M1764.0 1156.3 V1177.9"/>
</g>
<g id="ticklabels">
<text class="tk" x="83.8" y="1169.1" textLength="114" lengthAdjust="spacingAndGlyphs">0.02</text>
<text class="tk" x="83.8" y="984.1" textLength="114" lengthAdjust="spacingAndGlyphs">0.03</text>
<text class="tk" x="83.8" y="798.3" textLength="114" lengthAdjust="spacingAndGlyphs">0.04</text>
<text class="tk" x="83.8" y="614.2" textLength="114" lengthAdjust="spacingAndGlyphs">0.05</text>
<text class="tk" x="83.8" y="429.8" textLength="114" lengthAdjust="spacingAndGlyphs">0.06</text>
<text class="tk" x="83.8" y="243.1" textLength="114" lengthAdjust="spacingAndGlyphs">0.07</text>
<text class="tk" x="83.8" y="59.4" textLength="114" lengthAdjust="spacingAndGlyphs">0.08</text>
<text class="tk" x="357.2" y="1232.8" textLength="36.0" lengthAdjust="spacingAndGlyphs">0</text>
<text class="tk" x="617.3" y="1232.8" textLength="69.5" lengthAdjust="spacingAndGlyphs">20</text>
<text class="tk" x="897.0" y="1232.8" textLength="68.0" lengthAdjust="spacingAndGlyphs">40</text>
<text class="tk" x="1176.8" y="1232.8" textLength="65.5" lengthAdjust="spacingAndGlyphs">60</text>
<text class="tk" x="1452.3" y="1232.8" textLength="67.0" lengthAdjust="spacingAndGlyphs">80</text>
<text class="tk" x="1714.5" y="1232.8" textLength="100.5" lengthAdjust="spacingAndGlyphs">100</text>
</g>
<text class="ax" x="725.5" y="1294.3" textLength="429" lengthAdjust="spacingAndGlyphs">Iteration number</text>
<text class="ay" transform="translate(65.9 842) rotate(-90)" x="0" y="0" textLength="420" lengthAdjust="spacingAndGlyphs">Fitting precision</text>
<g id="legend">
<rect x="1012.7" y="53.1" width="729.8" height="634.9" fill="#fff" stroke="#000" stroke-width="2.7"/>
<text class="lg" x="1018.6" y="102.4" textLength="722" lengthAdjust="spacingAndGlyphs">Dotted line without guidance</text>
<text class="lg" x="1078.3" y="171" textLength="600" lengthAdjust="spacingAndGlyphs">Solid line with guidance</text>
<path d="M1221.9 225.3 H1361.0" stroke="#ff0000" stroke-width="5.0" fill="none"/>
<text class="lb" x="1397.8" y="240.7" textLength="137.2" lengthAdjust="spacingAndGlyphs">WOA</text>
<path d="M1221.9 296.1 H1361.0" stroke="#00ffff" stroke-width="3.4" fill="none"/>
<text class="lb" x="1428.1" y="310.3" textLength="73.6" lengthAdjust="spacingAndGlyphs">DE</text>
<path d="M1221.9 365.4 H1364.0" stroke="#0000ff" stroke-width="3.0" fill="none"/>
<text class="lb" x="1426.1" y="379.4" textLength="77.5" lengthAdjust="spacingAndGlyphs">EA</text>
<path d="M1221.9 436.0 H1361.0" stroke="#00ff00" stroke-width="5.8" fill="none"/>
<text class="lb" x="1398.8" y="450.9" textLength="136.2" lengthAdjust="spacingAndGlyphs">GWO</text>
<path d="M1221.9 505.4 H1361.0" stroke="#ffff00" stroke-width="5.0" fill="none"/>
<text class="lb" x="1413.3" y="521.0" textLength="106.8" lengthAdjust="spacingAndGlyphs">PSO</text>
<path d="M1221.9 576.1 H1361.0" stroke="#ff00ff" stroke-width="3.0" fill="none"/>
<text class="lb" x="1409.7" y="590.0" textLength="112.3" lengthAdjust="spacingAndGlyphs">GSA</text>
<path d="M1221.9 645.3 H1364.0" stroke="#000000" stroke-width="3.0" fill="none"/>
<text class="lb" x="1410.2" y="659.6" textLength="111.8" lengthAdjust="spacingAndGlyphs">HPA</text>
</g>
</svg></body></html>
